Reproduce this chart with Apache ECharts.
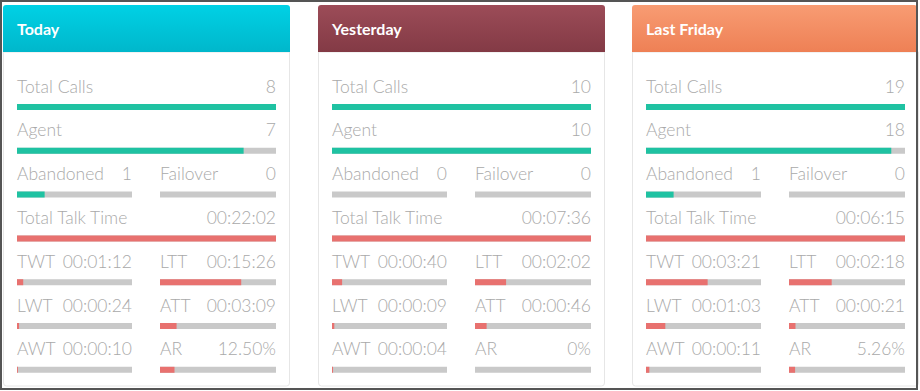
<!DOCTYPE html>
<html>
<head>
<meta charset="utf-8">
<script src="https://cdn.jsdelivr.net/npm/echarts@6/dist/echarts.min.js"></script>
<style>
  html, body { margin: 0; padding: 0; background: #fff; }
  #main { width: 920px; height: 391px; }
</style>
</head>
<body>
<div id="main"></div>
<script>
// panel titles
var panelTitles = ['Today', 'Yesterday', 'Last Friday'];
// metric names, in reading order
var metrics = ['Total Calls', 'Agent', 'Abandoned', 'Failover', 'Total Talk Time',
  'TWT', 'LTT', 'LWT', 'ATT', 'AWT', 'AR'];
// value shown next to each metric
var todayText = ['8', '7', '1', '0', '00:22:02', '00:01:12', '00:15:26', '00:00:24', '00:03:09', '00:00:10', '12.50%'];
var yesterdayText = ['10', '10', '0', '0', '00:07:36', '00:00:40', '00:02:02', '00:00:09', '00:00:46', '00:00:04', '0%'];
var fridayText = ['19', '18', '1', '0', '00:06:15', '00:03:21', '00:02:18', '00:01:03', '00:00:21', '00:00:11', '5.26%'];
// bar fill, percent of track
var todayFill = [100, 87.5, 24, 0, 100, 5.4, 70, 1.8, 14.3, 0.8, 12.5];
var yesterdayFill = [100, 100, 0, 0, 100, 8.8, 26.8, 2, 10, 0.9, 0];
var fridayFill = [100, 94.7, 24, 0, 100, 53.6, 36.8, 16.8, 5.6, 2.9, 5.26];

var allText = [todayText, yesterdayText, fridayText];
var allFill = [todayFill, yesterdayFill, fridayFill];

// layout
var panelX = [3, 318, 632];
var panelW = [287, 287, 285];
var headerColors = [
  ['#00d1e5', '#00b7cb'],
  ['#9c4c58', '#833a45'],
  ['#f89c73', '#ee8055']
];
var GREEN = '#1fc2a2', RED = '#e8716f', TRACK = '#c9c9c9', TXT = '#a9a9a9';
// row index and column ('f' full, 0 left, 1 right) for each metric
var slots = [[0, 'f'], [1, 'f'], [2, 0], [2, 1], [3, 'f'], [4, 0], [4, 1], [5, 0], [5, 1], [6, 0], [6, 1]];
function rowY(r) { return 107 + r * 43.8; }

var grids = [], xAxes = [], yAxes = [], series = [], graphics = [];

panelTitles.forEach(function (title, p) {
  var px = panelX[p];
  graphics.push({
    type: 'rect', z: 1,
    shape: { x: px + 0.5, y: 52, width: 286, height: 334, r: [0, 0, 3, 3] },
    style: { fill: '#fff', stroke: '#e6e6e6', lineWidth: 1 }
  });
  graphics.push({
    type: 'rect', z: 2,
    shape: { x: px, y: 5, width: panelW[p], height: 47, r: [3, 3, 0, 0] },
    style: {
      fill: new echarts.graphic.LinearGradient(0, 0, 0, 1, [
        { offset: 0, color: headerColors[p][0] },
        { offset: 1, color: headerColors[p][1] }
      ])
    }
  });
  graphics.push({
    type: 'text', z: 3,
    x: px + 14, y: 28,
    style: {
      text: title, fill: '#fff', font: 'bold 16px Lato',
      textVerticalAlign: 'middle', verticalAlign: 'middle'
    }
  });

  metrics.forEach(function (m, i) {
    var row = slots[i][0], col = slots[i][1];
    var left, width;
    if (col === 'f') { left = px + 14; width = 259; }
    else if (col === 0) { left = px + 14; width = 115; }
    else { left = px + 157; width = 116; }
    var cy = rowY(row);
    var gi = grids.length;
    grids.push({ left: left, top: cy - 3, width: width, height: 6 });
    xAxes.push({ gridIndex: gi, type: 'value', min: 0, max: 100, show: false });
    yAxes.push({ gridIndex: gi, type: 'category', data: [m], show: false });
    series.push({
      type: 'bar', xAxisIndex: gi, yAxisIndex: gi,
      data: [allFill[p][i]],
      barWidth: 6,
      silent: true,
      animation: false,
      itemStyle: { color: i < 4 ? GREEN : RED },
      showBackground: true,
      backgroundStyle: { color: TRACK }
    });
    graphics.push({
      type: 'text', z: 3, x: left, y: cy - 21,
      style: { text: m, fill: TXT, font: '300 17.5px Lato', verticalAlign: 'middle', textVerticalAlign: 'middle' }
    });
    graphics.push({
      type: 'text', z: 3, x: left + width, y: cy - 21,
      style: { text: allText[p][i], fill: TXT, font: '300 17.5px Lato', align: 'right', textAlign: 'right', verticalAlign: 'middle', textVerticalAlign: 'middle' }
    });
  });
});

// outer frame
graphics.push({
  type: 'rect', z: 10,
  shape: { x: 1, y: 1, width: 916, height: 388 },
  style: { fill: 'none', stroke: '#555', lineWidth: 2 }
});

var chart = echarts.init(document.getElementById('main'), null, { renderer: 'svg' });
chart.setOption({
  animation: false,
  grid: grids,
  xAxis: xAxes,
  yAxis: yAxes,
  series: series,
  graphic: { elements: graphics }
});
</script>
</body>
</html>
